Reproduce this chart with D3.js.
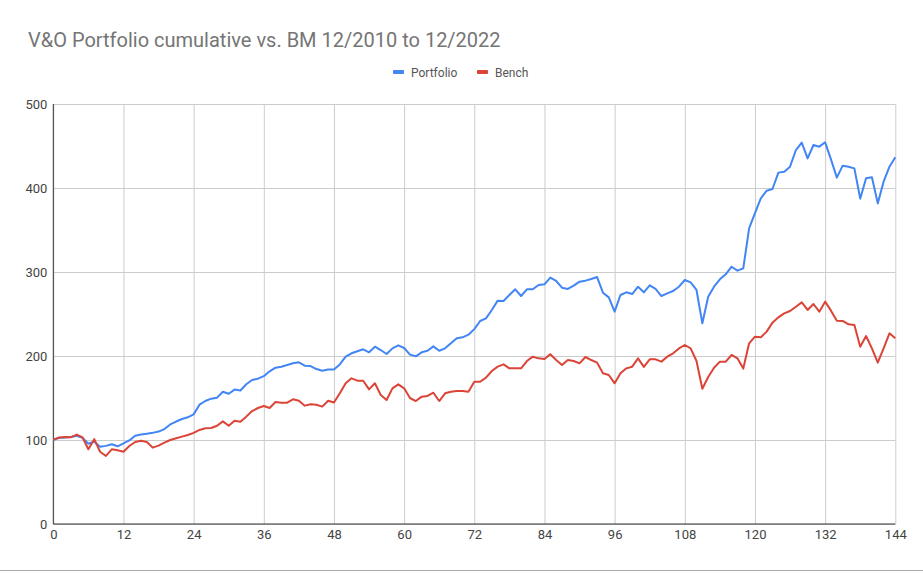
<!DOCTYPE html>
<html><head><meta charset="utf-8">
<script src="https://cdnjs.cloudflare.com/ajax/libs/d3/7.8.5/d3.min.js"></script>
<style>
html,body{margin:0;padding:0;background:#fff;}
text{font-family:Roboto,"Noto Sans",Arial,sans-serif;}
</style></head>
<body>
<svg id="chart" width="923" height="573"></svg>
<script>
const titleText = "V&O Portfolio cumulative vs. BM 12/2010 to 12/2022";
const seriesNames = ["Portfolio", "Bench"];
const seriesColors = ["#4285F4", "#DB4437"];
const xTicks = [0, 12, 24, 36, 48, 60, 72, 84, 96, 108, 120, 132, 144];
const yTicks = [0, 100, 200, 300, 400, 500];
const portfolio = [
 100,102.5,103,103.5,105,102.5,95.5,98,92,93,95,92.5,96,99.5,105,106.5,107.5,108.5,110,113,118.5,122,125,127,
 130.5,142,146.4,149.2,150.4,157.5,155,160,159,166.3,171.4,173,176,181.8,186.1,187.3,189.3,191.3,192.5,188.5,188,184.5,182.5,184,
 184,190,199.2,203.2,205.6,208,204.4,211.1,207.1,202.4,209.1,212.7,209.5,201.6,199.6,204.4,206.3,211.5,206.3,209.1,215.1,221,222.2,225.4,
 232,241.7,244.8,254.8,265.9,265.5,272.6,279.4,271.4,279.4,279.4,284.5,285.3,293.3,289.3,281.3,279.8,283.7,288.5,289.7,291.7,294,275.4,269.8,
 252.8,272.6,275.8,273.8,282.5,275.8,284.1,279.8,271.4,274.6,277.4,282.5,290.5,287.7,278.6,238.9,270.6,282.5,291.3,297.2,306.3,301.6,304.4,352,
 370,387.7,396.8,398.8,418.3,419.4,425.4,445.2,454,435.3,451.2,449.2,454.4,434.1,412.3,426.6,425.4,423.4,387.3,411.5,412.7,381.7,407.5,425.4,
 436.5
];
const bench = [
 100.4,103,103.6,103.2,106.5,103,89,101,86,81,88.9,87.7,86,92.8,97.6,99.2,97.6,90.9,93.3,96.8,100,102,104,106,
 108.5,112,113.9,114.3,117,122.2,117,123,121.8,127.8,134.5,138.1,140.5,138.1,145.2,144.4,144.4,148.4,146.8,140.9,142.5,142,139.7,146.8,
 144.6,155.6,167.5,173.4,170.6,170.6,160.3,167.5,153.6,147.6,161.5,166.3,161.5,150,146.4,151.6,152.4,156.3,146.4,155.6,157.5,158.3,158.3,157.5,
 169.4,169.4,174.2,182.1,187.3,190.1,185.3,185.3,185.3,194,199.2,197.2,196.4,202,195.2,189.3,195.2,194,191.3,198.8,195.2,192.1,179.4,177.4,
 167.5,179.4,185.3,187.3,197.2,187,196,196,193.3,199.2,203.2,209,213.1,209.1,194,161,175,186,193.3,193.3,201.2,197.2,185,215.1,
 223,222.2,229,239.7,246,250.8,253.6,258.7,263.9,254.8,261.9,252.8,264.7,254,242,241.7,237.7,236.9,211.1,223.8,209.1,192.1,209.1,227,
 221
];

const svg = d3.select("#chart");
const pLeft = 53.3, pRight = 895.3, pTop = 104, pBottom = 524;
const x = d3.scaleLinear().domain([0, 144]).range([pLeft, pRight]);
const y = d3.scaleLinear().domain([0, 500]).range([pBottom, pTop]);

// title
svg.append("text").attr("x", 28).attr("y", 47)
  .attr("font-size", 20).attr("fill", "#757575").text(titleText);

// gridlines
const gx = svg.append("g").attr("transform", `translate(0,${pBottom})`)
  .call(d3.axisBottom(x).tickValues(xTicks).tickSize(-(pBottom - pTop)).tickFormat(d3.format("d")));
gx.select(".domain").remove();
gx.selectAll(".tick line").attr("stroke", "#cccccc");
gx.selectAll(".tick text").attr("font-size", 13).attr("fill", "#444").attr("dy", "0.95em")
  .style("font-family", "Roboto, sans-serif");

const gy = svg.append("g").attr("transform", `translate(${pLeft},0)`)
  .call(d3.axisLeft(y).tickValues(yTicks).tickSize(-(pRight - pLeft)).tickPadding(6).tickFormat(d3.format("d")));
gy.select(".domain").remove();
gy.selectAll(".tick line").attr("stroke", "#cccccc");
gy.selectAll(".tick text").attr("font-size", 13).attr("fill", "#444")
  .style("font-family", "Roboto, sans-serif");

// axis lines
svg.append("line").attr("x1", pLeft).attr("x2", pLeft).attr("y1", pTop).attr("y2", pBottom)
  .attr("stroke", "#333").attr("stroke-width", 1);
svg.append("line").attr("x1", pLeft).attr("x2", pRight).attr("y1", pBottom).attr("y2", pBottom)
  .attr("stroke", "#333").attr("stroke-width", 1);

// lines
const line = d3.line().x((d, i) => x(i)).y(d => y(d));
[portfolio, bench].forEach((s, k) => {
  svg.append("path").datum(s).attr("d", line).attr("fill", "none")
    .attr("stroke", seriesColors[k]).attr("stroke-width", 2).attr("stroke-linejoin", "round");
});

// legend
const legendX = [393, 477];
seriesNames.forEach((n, k) => {
  svg.append("rect").attr("x", legendX[k]).attr("y", 70).attr("width", 11).attr("height", 4)
    .attr("rx", 1).attr("fill", seriesColors[k]);
  svg.append("text").attr("x", legendX[k] + 18).attr("y", 76.5).attr("font-size", 12)
    .attr("fill", "#555").text(n);
});

// bottom border line
svg.append("line").attr("x1", 0).attr("x2", 923).attr("y1", 570.5).attr("y2", 570.5)
  .attr("stroke", "#aaa").attr("stroke-width", 1);
</script>
</body></html>
